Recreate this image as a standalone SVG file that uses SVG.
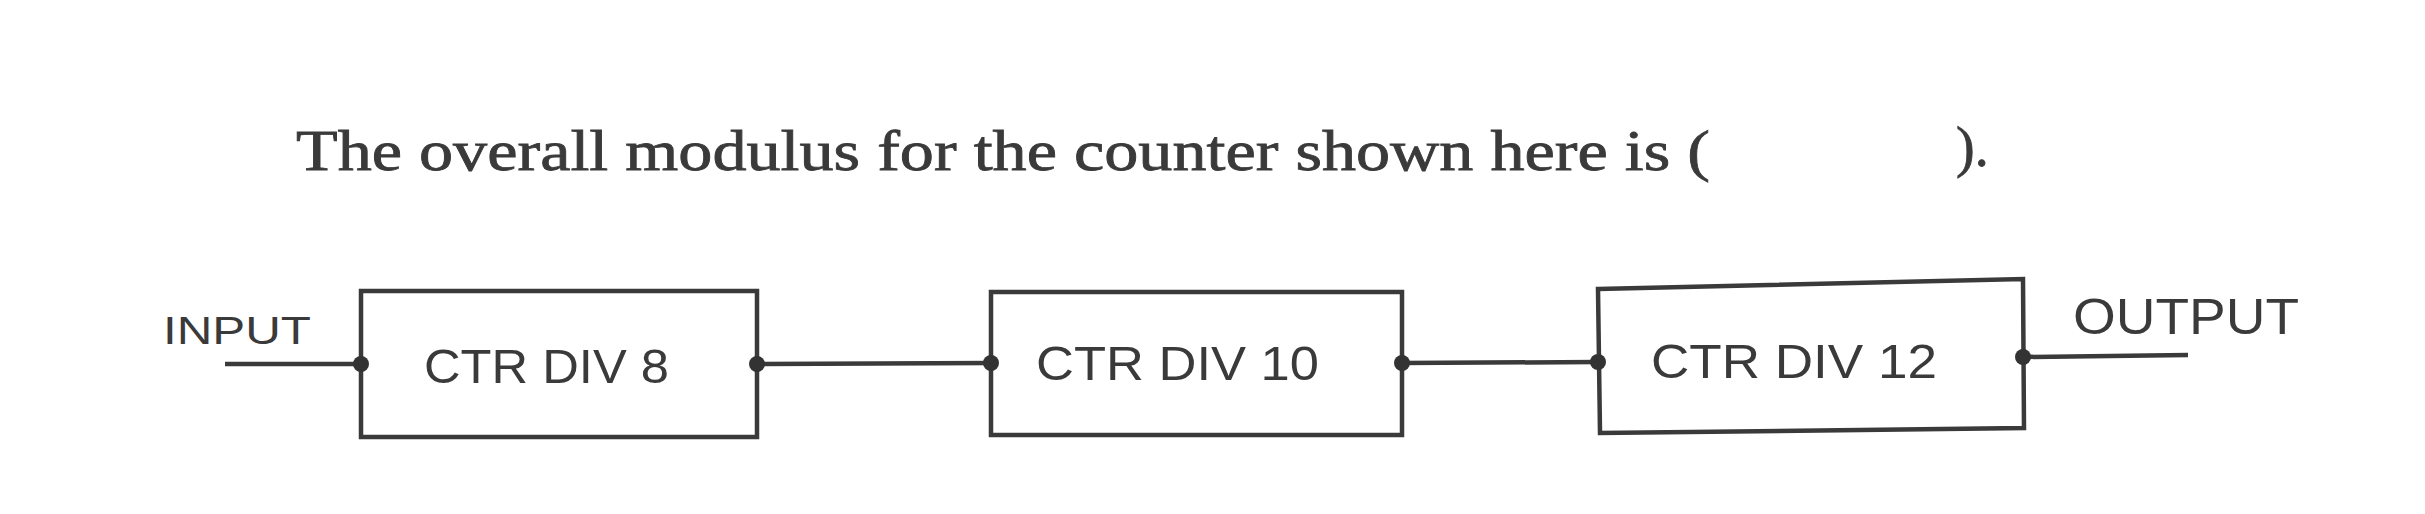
<svg xmlns="http://www.w3.org/2000/svg" width="2425" height="514" viewBox="0 0 2425 514">
<defs>
<style>
.box{fill:none;stroke:#3a3a3a;stroke-width:4.5;stroke-linejoin:miter}
.wire{fill:none;stroke:#3a3a3a;stroke-width:4.5}
.dot{fill:#333}
.lbl{font-family:"Liberation Sans",Arial,sans-serif;fill:#3a3a3a}
.title{font-family:"Liberation Serif","Times New Roman",serif;fill:#3a3a3a;font-size:56px;stroke:#3a3a3a;stroke-width:0.8}
</style>
</defs>
<rect width="2425" height="514" fill="#ffffff"/>
<text class="title" x="296" y="170" textLength="1414" lengthAdjust="spacingAndGlyphs">The overall modulus for the counter shown here is (</text>
<text class="title" x="1956" y="166">).</text>
<text class="lbl" x="163" y="344" font-size="38" textLength="148" lengthAdjust="spacingAndGlyphs" fill="#555">INPUT</text>
<text class="lbl" x="2073" y="334" font-size="50" textLength="226" lengthAdjust="spacingAndGlyphs">OUTPUT</text>
<g id="connectors">
<line class="wire" x1="225" y1="364" x2="361" y2="364"/>
<line class="wire" x1="757" y1="364" x2="991" y2="363"/>
<line class="wire" x1="1402" y1="363" x2="1598" y2="362"/>
<line class="wire" x1="2023" y1="357" x2="2188" y2="355"/>
</g>
<g id="ctr8">
<rect class="box" x="361" y="291" width="396" height="146"/>
<text class="lbl" x="424" y="383" font-size="48" textLength="245" lengthAdjust="spacingAndGlyphs">CTR DIV 8</text>
<circle class="dot" cx="361" cy="364" r="8"/>
<circle class="dot" cx="757" cy="364" r="8"/>
</g>
<g id="ctr10">
<rect class="box" x="991" y="292" width="411" height="143"/>
<text class="lbl" x="1036" y="380" font-size="48" textLength="283" lengthAdjust="spacingAndGlyphs">CTR DIV 10</text>
<circle class="dot" cx="991" cy="363" r="8"/>
<circle class="dot" cx="1402" cy="363" r="8"/>
</g>
<g id="ctr12">
<path class="box" d="M1598,289 L2023,279 L2024,428 L1600,433 Z"/>
<text class="lbl" x="1651" y="378" font-size="48" textLength="286" lengthAdjust="spacingAndGlyphs">CTR DIV 12</text>
<circle class="dot" cx="1598" cy="362" r="8"/>
<circle class="dot" cx="2023" cy="357" r="8"/>
</g>
</svg>
